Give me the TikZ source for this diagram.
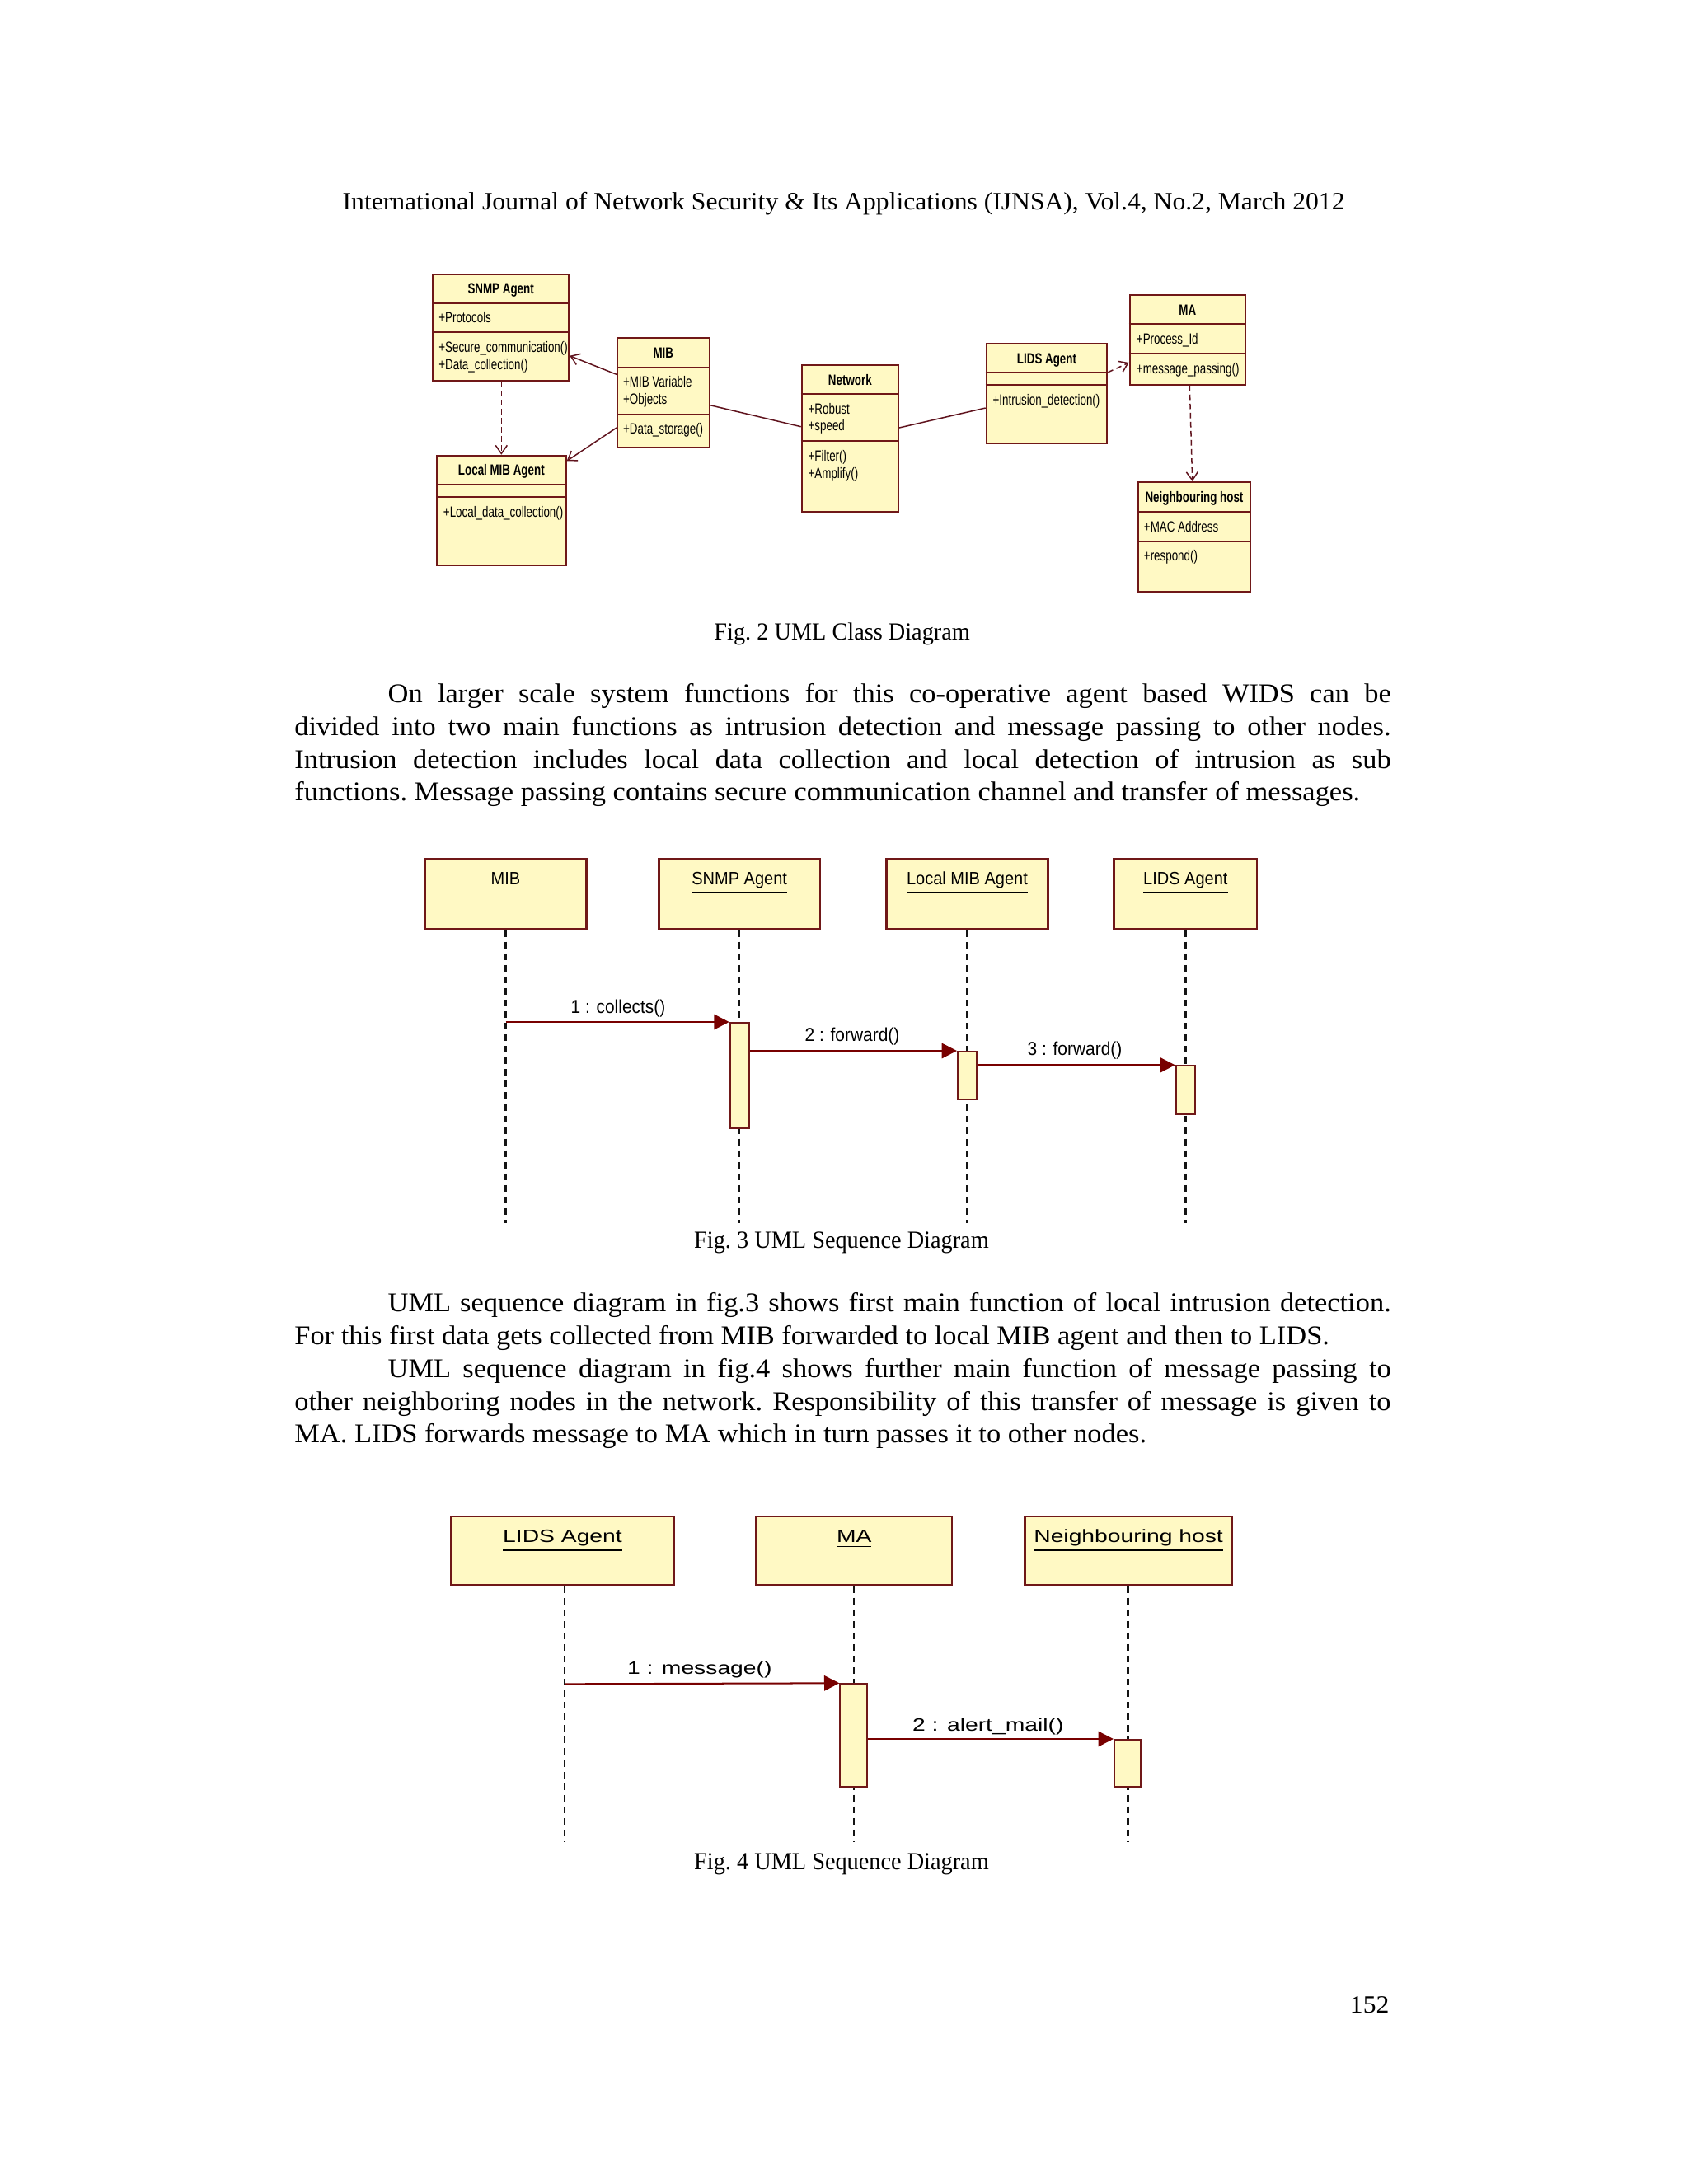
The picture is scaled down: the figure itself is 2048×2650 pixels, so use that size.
\documentclass[tikz,border=0pt]{standalone}
\usepackage{fontspec}
\setmainfont[FakeStretch=1.05]{Liberation Serif}
\newfontfamily\capfont[FakeStretch=0.95]{Liberation Serif}
\newfontfamily\umlc[FakeStretch=0.74]{Liberation Sans}
\newfontfamily\seqa[FakeStretch=0.92]{Liberation Sans}
\newfontfamily\seqb[FakeStretch=1.3]{Liberation Sans}
\usetikzlibrary{arrows.meta,fit}
\definecolor{umlfill}{RGB}{255,249,196}
\definecolor{umlline}{RGB}{112,24,24}
\definecolor{umllink}{RGB}{96,20,30}
\definecolor{msgred}{RGB}{120,0,0}
\definecolor{lifegray}{RGB}{20,20,20}
\tikzset{
  cbox/.style={draw=umlline, fill=umlfill, line width=0.6pt, inner sep=0pt},
  cdiv/.style={draw=umlline, line width=0.6pt},
  ctitle/.style={font=\umlc\bfseries\fontsize{5.4}{6}\selectfont, inner sep=0pt, anchor=base},
  cattr/.style={font=\umlc\fontsize{5.4}{6}\selectfont, inner sep=0pt, anchor=base west},
  assoc/.style={draw=umllink, line width=0.45pt},
  depend/.style={assoc, dash pattern=on 2pt off 1.3pt},
  openhead/.style={-{Straight Barb[length=3pt,width=4.2pt]}},
  objbox/.style={draw=umlline, fill=umlfill, line width=0.8pt, inner sep=0pt},
  actbox/.style={draw=umlline, fill=umlfill, line width=0.6pt, inner sep=0pt},
  lifeline/.style={draw=lifegray, line width=0.75pt, dash pattern=on 2.4pt off 1.8pt},
  msgline/.style={draw=msgred, line width=0.6pt, -{Triangle[length=5.5pt,width=5.5pt]}},
  lblA/.style={font=\seqa\fontsize{6.5}{7}\selectfont, inner sep=0pt, anchor=base},
  msgA/.style={font=\seqa\fontsize{6.8}{7}\selectfont, inner sep=0pt, anchor=base},
  lblB/.style={font=\seqb\fontsize{6.5}{7}\selectfont, inner sep=0pt, anchor=base},
  bodyline/.style={anchor=base west, inner sep=0pt, font=\frenchspacing\fontsize{9.8}{11.9}\selectfont},
  caption/.style={anchor=base, inner sep=0pt, font=\frenchspacing\capfont\fontsize{8.9}{10}\selectfont},
}
\newcommand\umlclassbox[8]{%
  \node[cbox, fit={(#2,#3) (#4,#5)}] (#1) {};
  \draw[cdiv] (#1.west |- 0,#6) -- (#1.east |- 0,#6);
  \draw[cdiv] (#1.west |- 0,#7) -- (#1.east |- 0,#7);
  \node[ctitle] (#1-title) at ({(#2+#4)/2},{(#3+#6)/2+6.5}) {#8};
}
\begin{document}
\begin{tikzpicture}[x=0.29883pt,y=-0.29883pt]
\fill[white] (0,0) rectangle (2048,2650);
\useasboundingbox (0,0) rectangle (2048,2650);

% header
\node[anchor=base west, inner sep=0pt, font=\frenchspacing\fontsize{9}{11}\selectfont] (hdr) at (415,254.3)
  {International Journal of Network Security \& Its Applications (IJNSA), Vol.4, No.2, March 2012};

% ---------- Fig. 2 class diagram ----------
\umlclassbox{snmp}{525}{332.7}{690.3}{461.7}{367.7}{403.3}{SNMP Agent}
\node[cattr] (snmp-a1) at (531.7,391.8) {+Protocols};
\node[cattr] (snmp-o1) at (531.7,427.2) {+Secure\_communication()};
\node[cattr] (snmp-o2) at (531.7,448.8) {+Data\_collection()};

\umlclassbox{mib}{749}{410}{860.7}{542.7}{446}{502.7}{MIB}
\node[cattr] (mib-a1) at (755.5,469.5) {+MIB Variable};
\node[cattr] (mib-a2) at (755.5,490.2) {+Objects};
\node[cattr] (mib-o1) at (755.5,526.2) {+Data\_storage()};

\umlclassbox{lmib}{530}{552.7}{686.7}{685.7}{587.7}{603.3}{Local MIB Agent}
\node[cattr] (lmib-o1) at (537.3,627.2) {+Local\_data\_collection()};

\umlclassbox{net}{972.7}{442.7}{1090}{621}{478.3}{535}{Network}
\node[cattr] (net-a1) at (980,502.2) {+Robust};
\node[cattr] (net-a2) at (980,522.9) {+speed};
\node[cattr] (net-o1) at (980,559.5) {+Filter()};
\node[cattr] (net-o2) at (980,580.2) {+Amplify()};

\umlclassbox{lids}{1196.7}{416.7}{1343.3}{538.3}{452.3}{466.7}{LIDS Agent}
\node[cattr] (lids-o1) at (1204,491.2) {+Intrusion\_detection()};

\umlclassbox{ma}{1370.7}{358.3}{1511}{466.7}{393.3}{429.3}{MA}
\node[cattr] (ma-a1) at (1378.3,417.9) {+Process\_Id};
\node[cattr] (ma-o1) at (1378.3,453.9) {+message\_passing()};

\umlclassbox{nh}{1380.7}{585}{1517.3}{718.3}{621}{656.7}{Neighbouring host}
\node[cattr] (nh-a1) at (1387.3,645.2) {+MAC Address};
\node[cattr] (nh-o1) at (1387.3,680.5) {+respond()};

% class connectors
\draw[assoc, openhead] (mib.west |- 0,454.3) -- (snmp.east |- 0,431.7);
\draw[assoc, openhead] (mib.west |- 0,519) -- (lmib.east |- 0,559.3);
\draw[depend, openhead] (snmp.south -| 608.3,0) -- (lmib.north -| 608.3,0);
\draw[assoc] (mib.east |- 0,491.7) -- (net.west |- 0,517.7);
\draw[assoc] (net.east |- 0,519) -- (lids.west |- 0,495);
\draw[depend, openhead] (lids.east |- 0,451.7) -- (ma.west |- 0,440);
\draw[depend, openhead] (ma.south -| 1443.3,0) -- (nh.north -| 1446.7,0);

\node[caption] (cap2) at (1021.7,776.7) {Fig. 2 UML Class Diagram};

% ---------- paragraph 1 ----------
\node[bodyline] (p1l1) at (470,852.5) {\makebox[363.7pt][s]{On larger scale system functions for this co-operative agent based WIDS can be}};
\node[bodyline] (p1l2) at (356.7,892.2) {\makebox[397.5pt][s]{divided into two main functions as intrusion detection and message passing to other nodes.}};
\node[bodyline] (p1l3) at (356.7,932) {\makebox[397.5pt][s]{Intrusion detection includes local data collection and local detection of intrusion as sub}};
\node[bodyline] (p1l4) at (356.7,971.7) {functions. Message passing contains secure communication channel and transfer of messages.};

% ---------- Fig. 3 sequence diagram ----------
\node[objbox, fit={(515.3,1042.7) (711.7,1127.3)}] (s3mib) {};
\node[objbox, fit={(799.5,1042.7) (994.9,1127.3)}] (s3snmp) {};
\node[objbox, fit={(1075.5,1042.7) (1271.4,1127.3)}] (s3lmib) {};
\node[objbox, fit={(1351.7,1042.7) (1525,1127.3)}] (s3lids) {};
\node[lblA] (s3mib-l) at (s3mib.center |- 0,1073) {\underline{MIB}};
\node[lblA] (s3snmp-l) at (s3snmp.center |- 0,1073) {\underline{SNMP Agent}};
\node[lblA] (s3lmib-l) at (s3lmib.center |- 0,1073) {\underline{Local MIB Agent}};
\node[lblA] (s3lids-l) at (s3lids.center |- 0,1073) {\underline{LIDS Agent}};
\draw[lifeline] (s3mib.south) -- (s3mib.south |- 0,1484);
\draw[lifeline] (s3snmp.south) -- (s3snmp.south |- 0,1484);
\draw[lifeline] (s3lmib.south) -- (s3lmib.south |- 0,1484);
\draw[lifeline] (s3lids.south) -- (s3lids.south |- 0,1484);
\node[actbox, fit={(885.7,1241) (909.2,1369)}] (s3a1) {};
\node[actbox, fit={(1162,1276) (1185.3,1334.3)}] (s3a2) {};
\node[actbox, fit={(1426.7,1293.3) (1450,1351.7)}] (s3a3) {};
\draw[msgline] (s3mib.south |- s3a1.north) -- (s3a1.north west);
\draw[msgline] (s3a1.east |- s3a2.north) -- (s3a2.north west);
\draw[msgline] (s3a2.east |- s3a3.north) -- (s3a3.north west);
\node[msgA] (s3m1) at (750,1229.3) {1 : collects()};
\node[msgA] (s3m2) at (1034,1263.3) {2 : forward()};
\node[msgA] (s3m3) at (1304,1280) {3 : forward()};

\node[caption] (cap3) at (1021,1514.5) {Fig. 3 UML Sequence Diagram};

% ---------- paragraph 2 ----------
\node[bodyline] (p2l1) at (470,1591) {\makebox[363.7pt][s]{UML sequence diagram in fig.3 shows first main function of local intrusion detection.}};
\node[bodyline] (p2l2) at (356.7,1631) {For this first data gets collected from MIB forwarded to local MIB agent and then to LIDS.};
\node[bodyline] (p2l3) at (470,1671) {\makebox[363.7pt][s]{UML sequence diagram in fig.4 shows further main function of message passing to}};
\node[bodyline] (p2l4) at (356.7,1711) {\makebox[397.5pt][s]{other neighboring nodes in the network. Responsibility of this transfer of message is given to}};
\node[bodyline] (p2l5) at (356.7,1750.5) {MA. LIDS forwards message to MA which in turn passes it to other nodes.};

% ---------- Fig. 4 sequence diagram ----------
\node[objbox, fit={(547.5,1840) (817.5,1923.3)}] (s4lids) {};
\node[objbox, fit={(917.5,1840) (1155,1923.3)}] (s4ma) {};
\node[objbox, fit={(1243.8,1840) (1494.4,1923.3)}] (s4nh) {};
\node[lblB] (s4lids-l) at (s4lids.center |- 0,1871.7) {\underline{LIDS Agent}};
\node[lblB] (s4ma-l) at (s4ma.center |- 0,1871.7) {\underline{MA}};
\node[lblB] (s4nh-l) at (s4nh.center |- 0,1871.7) {\underline{Neighbouring host}};
\draw[lifeline] (s4lids.south -| 685,0) -- (685,2234);
\draw[lifeline] (s4ma.south -| 1036,0) -- (1036,2234);
\draw[lifeline] (s4nh.south -| 1368.5,0) -- (1368.5,2234);
\node[actbox, fit={(1019.4,2043.3) (1051.9,2168.3)}] (s4a1) {};
\node[actbox, fit={(1351.9,2111) (1384.4,2168.3)}] (s4a2) {};
\draw[msgline] (685,2043.3) -- (s4a1.north west);
\draw[msgline] (s4a1.east |- s4a2.north) -- (s4a2.north west);
\node[lblB] (s4m1) at (848.8,2031.7) {1 : message()};
\node[lblB] (s4m2) at (1198.8,2100) {2 : alert\_mail()};

\node[caption] (cap4) at (1021,2268) {Fig. 4 UML Sequence Diagram};

% page number
\node[anchor=base, inner sep=0pt, font=\fontsize{9}{10}\selectfont] (pgno) at (1661.7,2442) {152};
\end{tikzpicture}
\end{document}
